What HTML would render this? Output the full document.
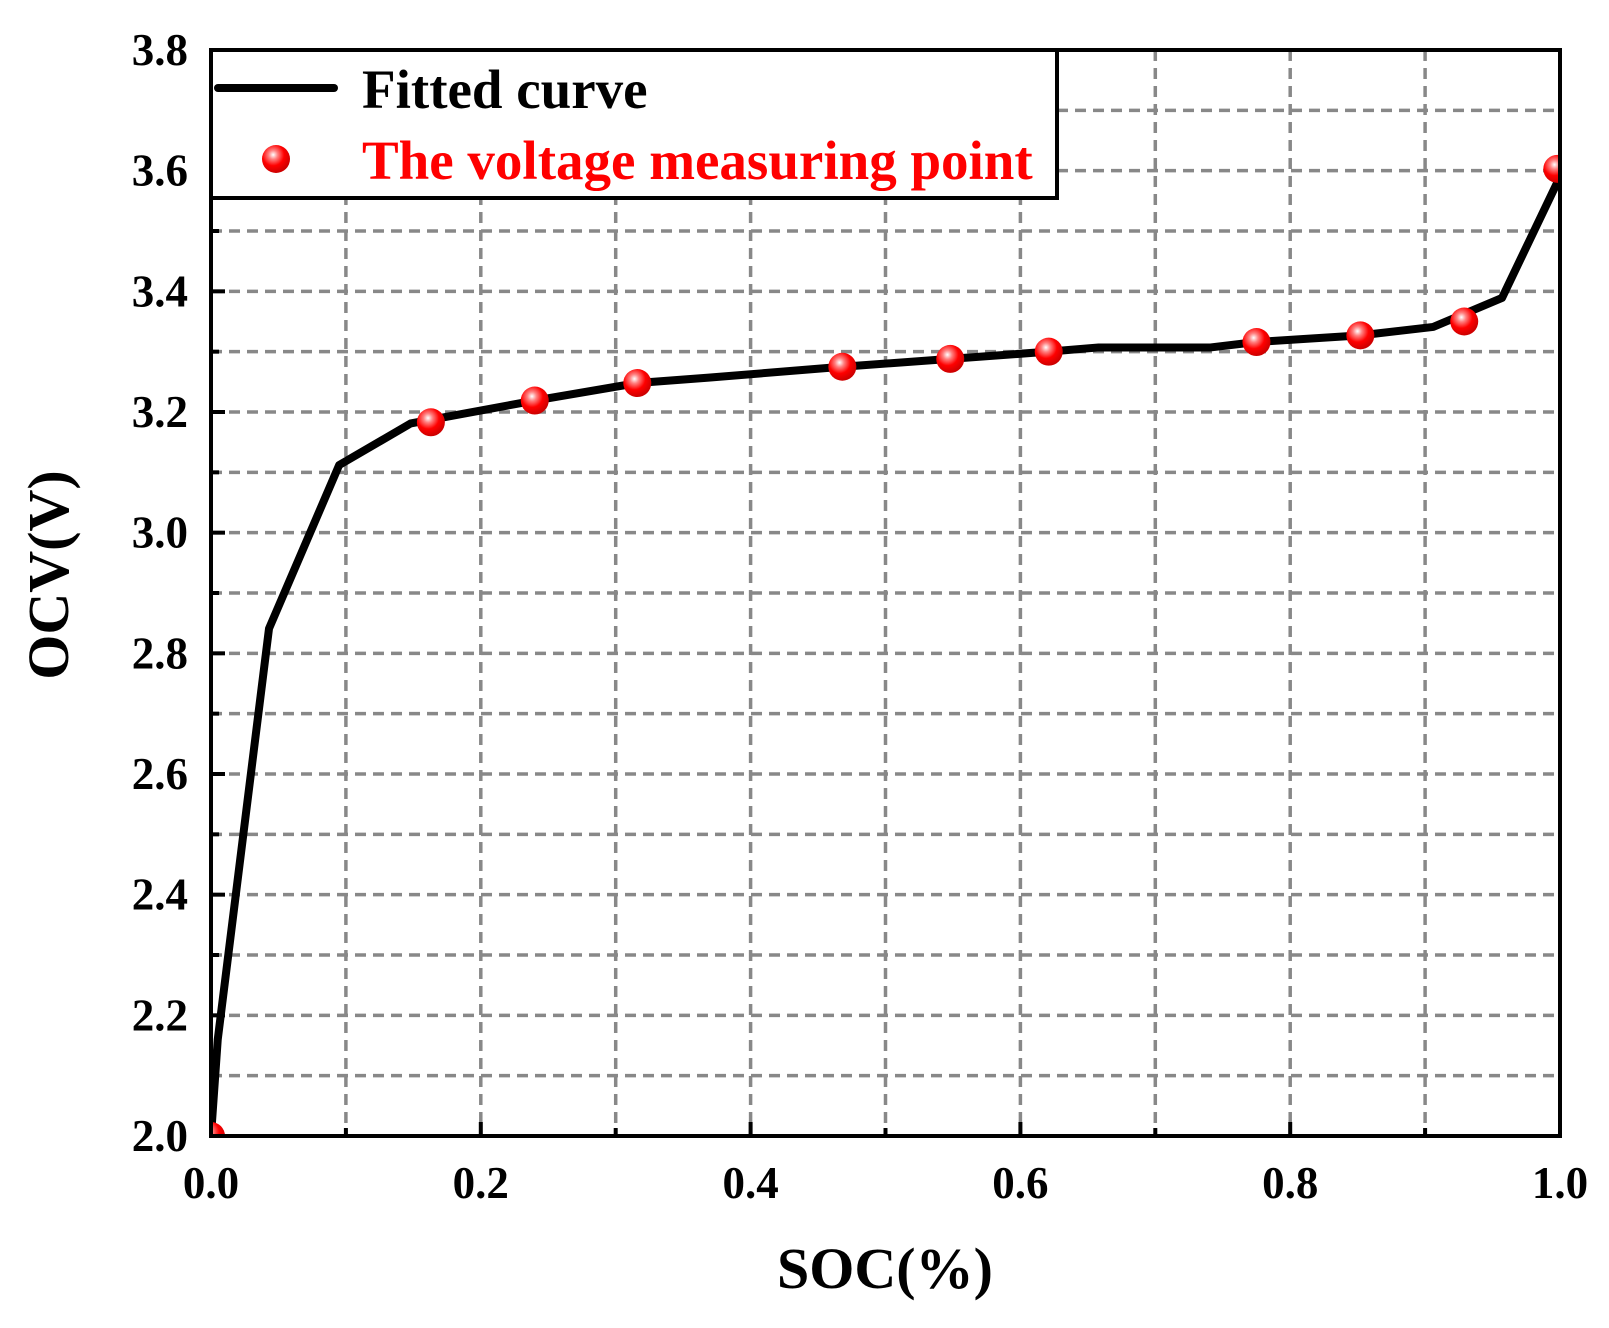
<!DOCTYPE html>
<html><head><meta charset="utf-8"><style>
html,body{margin:0;padding:0;background:#fff;}
svg{display:block;font-family:"Liberation Serif",serif;font-weight:bold;}
</style></head><body>
<svg id="chart" width="1609" height="1328" viewBox="0 0 1609 1328">
<defs>
<radialGradient id="ball" cx="0.4" cy="0.35" r="0.65">
<stop offset="0" stop-color="#fff"/><stop offset="0.25" stop-color="#ff8080"/><stop offset="0.6" stop-color="#f00"/><stop offset="1" stop-color="#c00"/>
</radialGradient>
<clipPath id="plotclip"><rect x="211" y="50" width="1349" height="1086"/></clipPath>
</defs>
<g id="grid"></g>
<g id="series"></g>
<g id="axes"></g>
<g>
<rect x="211" y="50" width="846" height="148" fill="#fff" stroke="#000" stroke-width="4"/>
<line x1="218" y1="88" x2="334" y2="88" stroke="#000" stroke-width="8" stroke-linecap="round"/>
<text x="362" y="108" font-size="55" fill="#000">Fitted curve</text>
<circle cx="276" cy="159" r="14" fill="url(#ball)"/>
<text x="362" y="179" font-size="55" fill="#f00">The voltage measuring point</text>
</g>
<text x="885" y="1288" font-size="58" text-anchor="middle">SOC(%)</text>
<text transform="translate(68,575) rotate(-90)" font-size="58" text-anchor="middle">OCV(V)</text>
</svg>
<script>
const xTicks=[0,0.2,0.4,0.6,0.8,1.0];
const yTicks=[2.0,2.2,2.4,2.6,2.8,3.0,3.2,3.4,3.6,3.8];
const curveSoc=[0,0.005,0.043,0.095,0.148,0.240,0.316,0.369,0.468,0.548,0.621,0.658,0.741,0.775,0.852,0.906,0.957,1.0];
const curveOcv=[2.0,2.16,2.841,3.112,3.181,3.219,3.248,3.257,3.275,3.288,3.300,3.307,3.307,3.316,3.327,3.341,3.389,3.59];
const pointSoc=[0,0.163,0.240,0.316,0.468,0.548,0.621,0.775,0.852,0.929,0.998];
const pointOcv=[2.0,3.183,3.219,3.248,3.275,3.288,3.300,3.316,3.327,3.350,3.603];
const XL=211,XR=1560,YT=50,YB=1136;
const sx=v=>XL+(v-0)/(1-0)*(XR-XL);
const sy=v=>YB-(v-2.0)/(3.8-2.0)*(YB-YT);
const NS='http://www.w3.org/2000/svg';
function mk(tag,attrs,parent){const e=document.createElementNS(NS,tag);for(const k in attrs)e.setAttribute(k,attrs[k]);parent.appendChild(e);return e;}
const grid=document.getElementById('grid'),axes=document.getElementById('axes'),series=document.getElementById('series');
series.setAttribute('clip-path','url(#plotclip)');
for(let i=1;i<10;i++){const v=i/10;
 const l=mk('line',{x1:sx(v),x2:sx(v),y1:YT,y2:YB,stroke:'#888','stroke-width':3.5,'stroke-dasharray':'11 7'},grid);
 
 }
for(let i=1;i<18;i++){const v=2+i/10;
 const l=mk('line',{x1:XL,x2:XR,y1:sy(v),y2:sy(v),stroke:'#888','stroke-width':3.5,'stroke-dasharray':'11 7'},grid);
 
 }
const frame=mk('rect',{x:XL,y:YT,width:XR-XL,height:YB-YT,fill:'none',stroke:'#000','stroke-width':4},axes);


for(let i=0;i<=10;i++){const v=i/10,len=i%2?8:14;
 const t=mk('line',{x1:sx(v),x2:sx(v),y1:YB,y2:YB-len,stroke:'#000','stroke-width':4},axes);
 
 }
for(let i=0;i<=18;i++){const v=2+i/10,len=i%2?8:14;
 const t=mk('line',{x1:XL,x2:XL+len,y1:sy(v),y2:sy(v),stroke:'#000','stroke-width':4},axes);
 
 }
xTicks.forEach(v=>{const t=mk('text',{x:sx(v),y:1198,'font-size':45,'text-anchor':'middle'},axes);t.textContent=v.toFixed(1);
 
 });
yTicks.forEach(v=>{const t=mk('text',{x:188,y:sy(v)+15,'font-size':45,'text-anchor':'end'},axes);t.textContent=v.toFixed(1);
 
 });
const pts=curveSoc.map((s,i)=>sx(s)+','+sy(curveOcv[i])).join(' ');
const pl=mk('polyline',{points:pts,fill:'none',stroke:'#000','stroke-width':8,'stroke-linejoin':'round'},series);


pointSoc.forEach((s,i)=>{const c=mk('circle',{cx:sx(s),cy:sy(pointOcv[i]),r:14,fill:'url(#ball)'},series);
 
 });
</script>
</body></html>
